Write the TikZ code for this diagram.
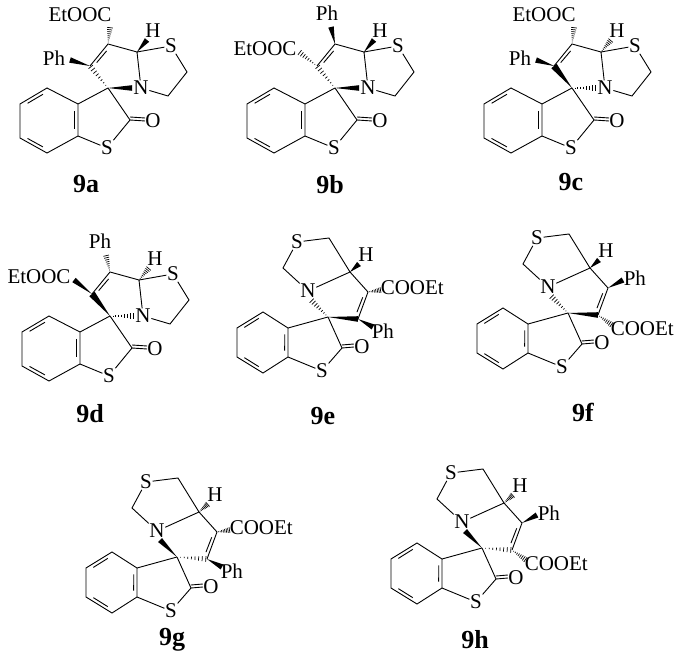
\documentclass[tikz,border=0pt]{standalone}
\usepackage{fontspec}
\setmainfont{Liberation Serif}
\usetikzlibrary{calc}
\tikzset{atom/.style={inner sep=0.3pt,font=\fontsize{21}{21}\selectfont},
  lbl/.style={font=\fontsize{26}{26}\selectfont\bfseries},
  every path/.style={line width=0.9pt}}
\newcommand\bwedge[2]{\fill (#1) -- ($(#2)!2.8pt!90:(#1)$) -- ($(#2)!2.8pt!-90:(#1)$) -- cycle;}
\newcommand\hwedge[2]{\foreach \t in {0.12,0.24,...,0.97}{\draw[line width=0.7pt] ($(#1)!\t!(#2)!{\t*3pt}!90:(#2)$) -- ($(#1)!\t!(#2)!{\t*3pt}!-90:(#2)$);}}
\newcommand\dbl[3]{\draw ($($(#1)!0.18!(#2)$)!3.5pt!(#3)$) -- ($($(#1)!0.82!(#2)$)!3.5pt!(#3)$);}
\newcommand\cdbl[2]{\draw ($(#1)!3pt!90:(#2)$) -- ($(#2)!3pt!-90:(#1)$);}
% layout A
\newcommand\skelA[1]{%
 \coordinate (#1sp) at (108,88);
 \node[atom] (#1N) at (141,88) {N};
 \coordinate (#1Ne) at (132,88);
 \coordinate (#1c3) at (90,66); \coordinate (#1c2) at (108,44); \coordinate (#1c1) at (137,52);
 \node[atom] (#1S) at (171,46) {S};
 \coordinate (#1m1) at (187,72); \coordinate (#1m2) at (168,96);
 \draw (#1c3) -- (#1c2) -- (#1c1) -- (#1N) -- (#1m2) -- (#1m1) -- (#1S) -- (#1c1);
 \coordinate (#1ctr) at (116,66); \dbl{#1c3}{#1c2}{#1ctr}
 \node[atom] (#1H) at (153,31) {H}; \coordinate (#1Hb) at (147,40);
 \coordinate (#1a) at (78,104); \coordinate (#1b) at (47,88); \coordinate (#1c) at (20,104);
 \coordinate (#1d) at (20,138); \coordinate (#1e) at (47,153); \coordinate (#1f) at (78,136);
 \node[atom] (#1S2) at (107,148) {S}; \coordinate (#1co) at (130,120);
 \node[atom] (#1O) at (153,121) {O}; \coordinate (#1Oe) at (145,121);
 \draw (#1sp) -- (#1a) -- (#1b) -- (#1c) -- (#1d) -- (#1e) -- (#1f) -- (#1a);
 \draw (#1f) -- (#1S2) -- (#1co) -- (#1sp); \draw (#1co) -- (#1Oe); \cdbl{#1co}{#1Oe}
 \coordinate (#1bz) at (49,120);
 \dbl{#1a}{#1f}{#1bz} \dbl{#1b}{#1c}{#1bz} \dbl{#1d}{#1e}{#1bz}
}
% layout B
\newcommand\skelB[1]{%
 \coordinate (#1sp) at (328,317);
 \node[atom] (#1N) at (308,291) {N}; \coordinate (#1Ne) at (311,300);
 \coordinate (#1c1) at (350,272); \coordinate (#1cu) at (368,292); \coordinate (#1cl) at (358,319);
 \node[atom] (#1S) at (297,242) {S};
 \coordinate (#1m1) at (329,238); \coordinate (#1m2) at (283,268);
 \draw (#1N) -- (#1m2) -- (#1S) -- (#1m1) -- (#1c1) -- (#1N);
 \draw (#1c1) -- (#1cu) -- (#1cl);
 \coordinate (#1ctr) at (340,300); \dbl{#1cu}{#1cl}{#1ctr}
 \node[atom] (#1H) at (366,255) {H}; \coordinate (#1Hb) at (359,264);
 \coordinate (#1a) at (288,328); \coordinate (#1b) at (263,312); \coordinate (#1c) at (237,328);
 \coordinate (#1d) at (237,357); \coordinate (#1e) at (263,373); \coordinate (#1f) at (288,357);
 \node[atom] (#1S2) at (322,371) {S}; \coordinate (#1co) at (342,348);
 \node[atom] (#1O) at (362,347) {O}; \coordinate (#1Oe) at (354,347);
 \draw (#1sp) -- (#1a) -- (#1b) -- (#1c) -- (#1d) -- (#1e) -- (#1f) -- (#1a);
 \draw (#1f) -- (#1S2) -- (#1co) -- (#1sp); \draw (#1co) -- (#1Oe); \cdbl{#1co}{#1Oe}
 \coordinate (#1bz) at (262,343);
 \dbl{#1a}{#1f}{#1bz} \dbl{#1b}{#1c}{#1bz} \dbl{#1d}{#1e}{#1bz}
}
\begin{document}
\begin{tikzpicture}[x=1pt,y=-1pt]
\useasboundingbox (0,0) rectangle (685,660);
% 9a
\begin{scope}
 \skelA{a}
 \coordinate (ae1) at (110,27); \hwedge{ac2}{ae1} \node[atom] (aest) at (80,15) {EtOOC};
 \coordinate (ap) at (70,60); \bwedge{ac3}{ap} \node[atom] (aph) at (54,58) {Ph};
 \hwedge{asp}{ac3} \bwedge{asp}{aNe} \bwedge{ac1}{aHb}
\end{scope}
% 9b
\begin{scope}[shift={(227,0)}]
 \skelA{b}
 \coordinate (be1) at (104,27); \bwedge{bc2}{be1} \node[atom] (bph) at (100,13) {Ph};
 \coordinate (bp) at (72,52); \hwedge{bc3}{bp} \node[atom] (best) at (38,49) {EtOOC};
 \hwedge{bsp}{bc3} \bwedge{bsp}{bNe} \bwedge{bc1}{bHb}
\end{scope}
% 9c
\begin{scope}[shift={(464,0)}]
 \skelA{c}
 \coordinate (ce1) at (110,27); \hwedge{cc2}{ce1} \node[atom] (cest) at (80,15) {EtOOC};
 \coordinate (cp) at (72,60); \bwedge{cc3}{cp} \node[atom] (cph) at (56,58) {Ph};
 \fill (csp) -- ($(cc3)!3.5pt!90:(csp)$) -- ($(cc3)!3.5pt!-90:(csp)$) -- cycle;
 \hwedge{csp}{cNe} \hwedge{cc1}{cHb}
\end{scope}
% 9d
\begin{scope}[shift={(2,228)}]
 \skelA{d}
 \coordinate (de1) at (104,27); \hwedge{dc2}{de1} \node[atom] (dph) at (98,13) {Ph};
 \coordinate (dp) at (72,52); \bwedge{dc3}{dp} \node[atom] (dest) at (37,49) {EtOOC};
 \fill (dsp) -- ($(dc3)!3.5pt!90:(dsp)$) -- ($(dc3)!3.5pt!-90:(dsp)$) -- cycle;
 \hwedge{dsp}{dNe} \hwedge{dc1}{dHb}
\end{scope}
% 9e
\begin{scope}
 \skelB{e}
 \bwedge{ec1}{eHb}
 \coordinate (ee1) at (381,290); \hwedge{ecu}{ee1} \node[atom,anchor=west] (eest) at (380,288) {COOEt};
 \coordinate (ep) at (373,327); \bwedge{ecl}{ep} \node[atom,anchor=west] (eph) at (371,331) {Ph};
 \hwedge{esp}{eNe} \bwedge{esp}{ecl}
\end{scope}
% 9f
\begin{scope}[shift={(240,-4)}]
 \skelB{f}
 \bwedge{fc1}{fHb}
 \coordinate (fe1) at (383,284); \bwedge{fcu}{fe1} \node[atom,anchor=west] (fph) at (383,282) {Ph};
 \coordinate (fp) at (372,329); \hwedge{fcl}{fp} \node[atom,anchor=west] (fest) at (370,333) {COOEt};
 \hwedge{fsp}{fNe} \bwedge{fsp}{fcl}
\end{scope}
% 9g
\begin{scope}[shift={(-151,240)}]
 \skelB{g}
 \hwedge{gc1}{gHb}
 \coordinate (ge1) at (381,290); \hwedge{gcu}{ge1} \node[atom,anchor=west] (gest) at (380,288) {COOEt};
 \coordinate (gp) at (373,327); \bwedge{gcl}{gp} \node[atom,anchor=west] (gph) at (371,331) {Ph};
 \bwedge{gsp}{gNe} \hwedge{gsp}{gcl}
\end{scope}
% 9h
\begin{scope}[shift={(154,231)}]
 \skelB{h}
 \hwedge{hc1}{hHb}
 \coordinate (he1) at (383,284); \bwedge{hcu}{he1} \node[atom,anchor=west] (hph) at (383,282) {Ph};
 \coordinate (hp) at (372,329); \hwedge{hcl}{hp} \node[atom,anchor=west] (hest) at (370,333) {COOEt};
 \bwedge{hsp}{hNe} \hwedge{hsp}{hcl}
\end{scope}
% labels
\node[lbl] (la) at (86,184) {9a};
\node[lbl] (lb) at (330,185) {9b};
\node[lbl] (lc) at (571,182) {9c};
\node[lbl] (ld) at (90,414) {9d};
\node[lbl] (le) at (323,416) {9e};
\node[lbl] (lf) at (583,412) {9f};
\node[lbl] (lg) at (172,640) {9g};
\node[lbl] (lh) at (475,640) {9h};
\end{tikzpicture}
\end{document}
